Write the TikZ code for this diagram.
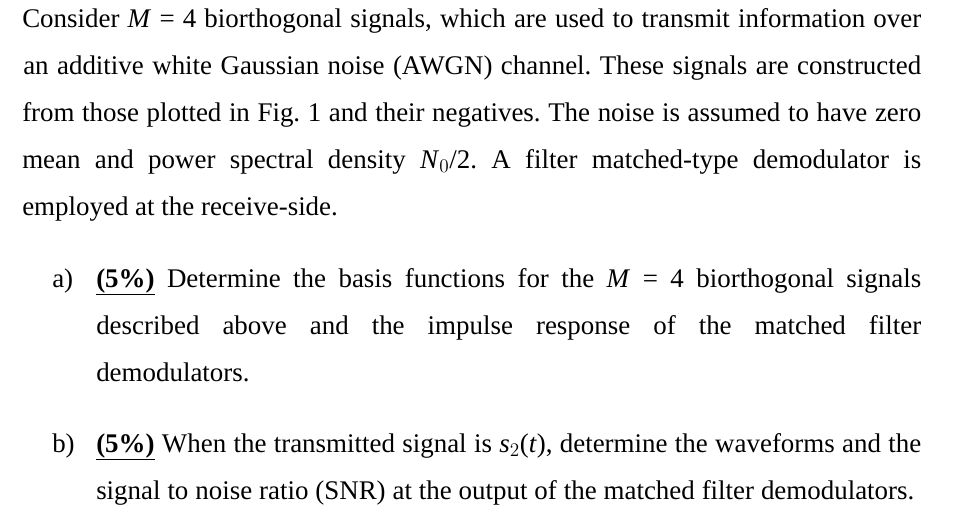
\documentclass[tikz,border=0pt]{standalone}
\usepackage{fontspec}
\setmainfont{Liberation Serif}
\frenchspacing
\newcommand{\jl}[4]{\node[txt] (n#1) at (#1,#2) {\makebox[#3][s]{#4}};}
\begin{document}
\begin{tikzpicture}[x=0.75pt,y=-0.75pt,
  txt/.style={anchor=base west,inner sep=0pt,font=\fontsize{20.2}{24}\selectfont}]
\useasboundingbox (0,0) rectangle (953,519);
\jl{22}{27}{674.25pt}{Consider \textit{M} = 4 biorthogonal signals, which are used to transmit information over}
\jl{23}{74}{673.5pt}{an additive white Gaussian noise (AWGN) channel. These signals are constructed}
\jl{22}{121}{674.25pt}{from those plotted in Fig. 1 and their negatives. The noise is assumed to have zero}
\jl{22}{168}{674.25pt}{mean and power spectral density \textit{N}$_0$/2. A filter matched-type demodulator is}
\node[txt] (l5) at (22,215) {employed at the receive-side.};
\jl{52}{287}{651.75pt}{\makebox[33pt][l]{a)}\underline{\textbf{(5\%)}} Determine the basis functions for the \textit{M} = 4 biorthogonal signals}
\jl{96}{334}{618.75pt}{described above and the impulse response of the matched filter}
\node[txt] (a3) at (96,381) {demodulators.};
\jl{52}{452}{651.75pt}{\makebox[33pt][l]{b)}\underline{\textbf{(5\%)}} When the transmitted signal is \textit{s}$_2$(\textit{t}), determine the waveforms and the}
\jl{96}{499}{613.5pt}{signal to noise ratio (SNR) at the output of the matched filter demodulators.}
\end{tikzpicture}
\end{document}
